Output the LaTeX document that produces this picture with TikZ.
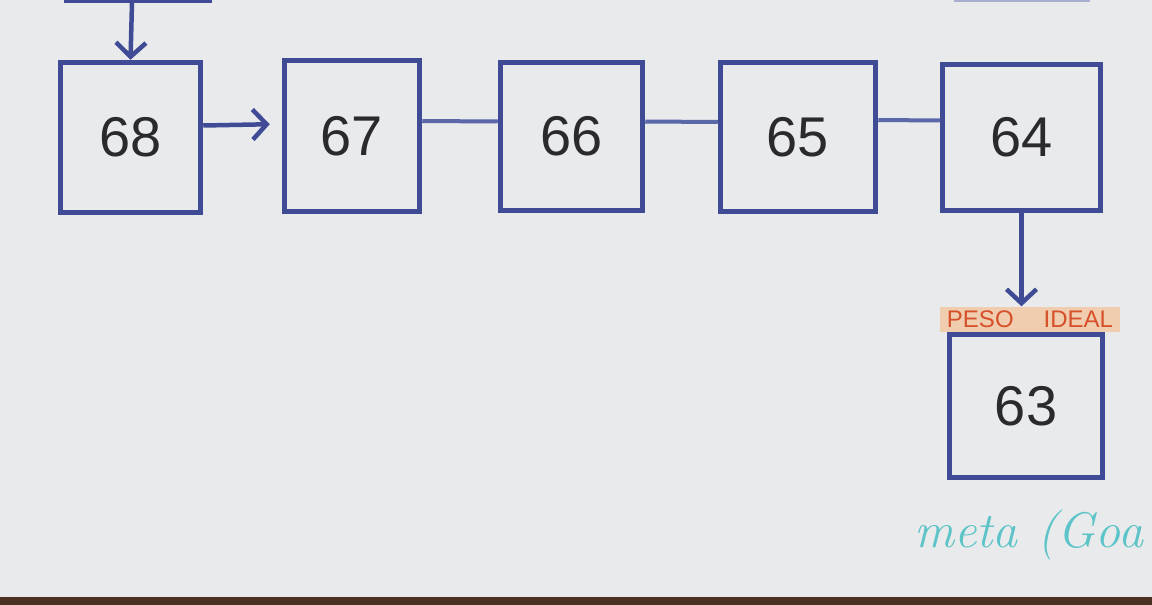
\documentclass[tikz,border=0pt]{standalone}
\usepackage{fontspec}
\setmainfont{Liberation Sans}
\newfontfamily\handfont{Latin Modern Roman}
\usetikzlibrary{arrows.meta}
\definecolor{paper}{HTML}{E9EAEB}
\definecolor{ink}{HTML}{3F4C95}
\definecolor{inklight}{HTML}{5A67A8}
\definecolor{digit}{HTML}{2A2A2E}
\definecolor{table}{HTML}{4A3022}
\definecolor{orangetxt}{HTML}{D6502A}
\definecolor{orangehl}{HTML}{F2C6A0}
\definecolor{teal}{HTML}{5CC4C8}
\tikzset{
  boxnode/.style={draw=ink, line width=5.5pt, minimum width=#1, inner sep=0pt,
    text=digit, font=\fontsize{56}{60}\selectfont},
  link/.style={draw=inklight, line width=4pt},
  arrowlink/.style={draw=ink, line width=4.5pt,
    -{Straight Barb[length=14pt,width=30pt,line width=4.5pt]}},
}
\begin{document}
\begin{tikzpicture}[x=1pt,y=-1pt]
\useasboundingbox (0,0) rectangle (1152,605);
\clip (0,0) rectangle (1152,605);
\fill[paper] (0,0) rectangle (1152,605);
\fill[table] (0,597) rectangle (1152,605);

% partial boxes at the top edge
\node[boxnode=142pt, minimum height=140pt] (btop) at (138,-70) {};
\node[boxnode=130pt, minimum height=140pt, draw=ink!45] (btopr) at (1022,-71) {};

% main row
\node[boxnode=140pt, minimum height=150pt] (b68) at (130.5,137.5) {68};
\node[boxnode=135pt, minimum height=151pt] (b67) at (352,136) {67};
\node[boxnode=142pt, minimum height=148pt] (b66) at (571.5,136.5) {66};
\node[boxnode=155pt, minimum height=149pt] (b65) at (798,137) {65};
\node[boxnode=158pt, minimum height=146pt] (b64) at (1021.5,137.5) {64};
\node[boxnode=153pt, minimum height=143pt] (b63) at (1026,406) {63};

% label above 63
\node[fill=orangehl, fill opacity=0.8, text opacity=1, text=orangetxt,
      font=\fontsize{24}{26}\selectfont, inner xsep=3pt, inner ysep=1pt,
      minimum width=180pt, minimum height=25pt] (peso) at (1030,319)
      {PESO\hspace{30pt}IDEAL};

% note below
\node[anchor=west, text=teal, font=\handfont\itshape\fontsize{50}{54}\selectfont, inner sep=0pt]
  (meta) at (914,535) {meta\hspace{20pt}(Goa};

% connectors
\draw[arrowlink] ([xshift=-6pt]btop.south) -- (b68.north);
\draw[arrowlink, shorten >=12pt] ([yshift=12pt]b68.east) -- ([yshift=12pt]b67.west);
\draw[link] ([yshift=15pt]b67.east) -- ([yshift=15pt]b66.west);
\draw[link] ([yshift=15pt]b66.east) -- ([yshift=15pt]b65.west);
\draw[link] ([yshift=17pt]b65.east) -- ([yshift=17pt]b64.west);
\draw[arrowlink] (b64.south) -- (b64.south |- peso.north);
\end{tikzpicture}
\end{document}
